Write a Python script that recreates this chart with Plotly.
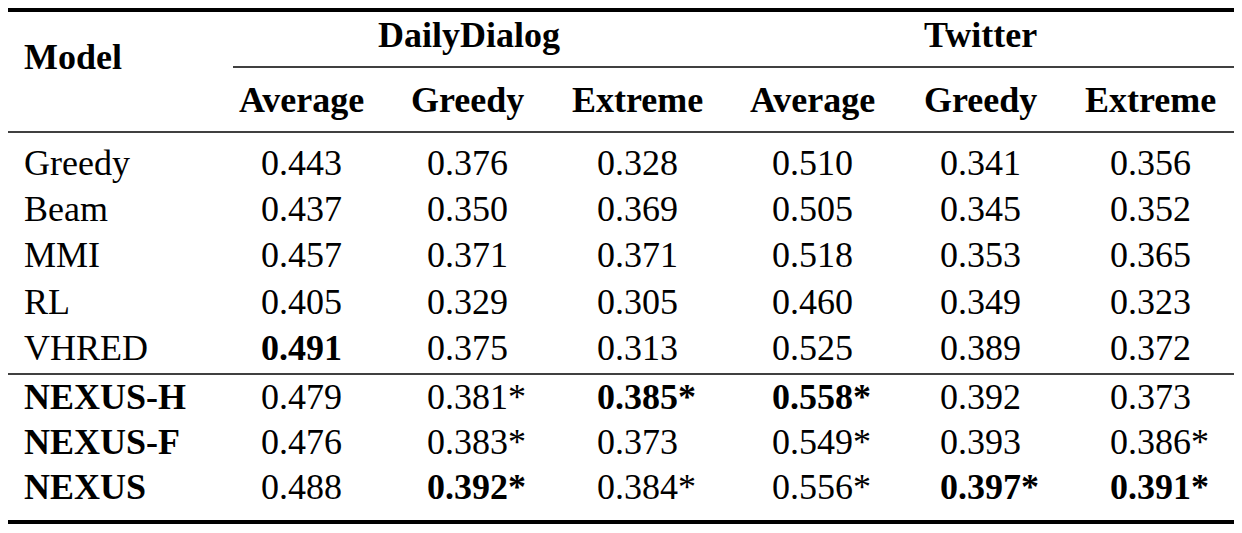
import plotly.graph_objects as go

# Dados da tabela
modelos = ['Greedy', 'Beam', 'MMI', 'RL', 'VHRED', 'NEXUS-H', 'NEXUS-F', 'NEXUS']
modelos_negrito = [False, False, False, False, False, True, True, True]
grupos = ['DailyDialog', 'Twitter']
metricas = ['Average', 'Greedy', 'Extreme', 'Average', 'Greedy', 'Extreme']
valores = [
    ['0.443', '0.376', '0.328', '0.510', '0.341', '0.356'],
    ['0.437', '0.350', '0.369', '0.505', '0.345', '0.352'],
    ['0.457', '0.371', '0.371', '0.518', '0.353', '0.365'],
    ['0.405', '0.329', '0.305', '0.460', '0.349', '0.323'],
    ['0.491', '0.375', '0.313', '0.525', '0.389', '0.372'],
    ['0.479', '0.381*', '0.385*', '0.558*', '0.392', '0.373'],
    ['0.476', '0.383*', '0.373', '0.549*', '0.393', '0.386*'],
    ['0.488', '0.392*', '0.384*', '0.556*', '0.397*', '0.391*'],
]
negrito = [(4, 0), (5, 2), (5, 3), (7, 1), (7, 4), (7, 5)]  # células em negrito

# Posições (pixels da página)
x_col = [301, 467, 637, 812, 980, 1150]
x_grupo = [469, 980]
y_linha = [163, 209, 255, 302, 348, 397, 442, 487]
fonte = dict(family='Liberation Serif, Times New Roman, Times, serif', size=36, color='black')

fig = go.Figure()
fig.add_trace(go.Scatter(x=[500], y=[300], mode='markers', marker=dict(opacity=0), showlegend=False))

anot = []
anot.append(dict(x=22, y=57, text='<b>Model</b>', xanchor='left'))
for g, xg in zip(grupos, x_grupo):
    anot.append(dict(x=xg, y=35, text=f'<b>{g}</b>', xanchor='center'))
for m, xc in zip(metricas, x_col):
    anot.append(dict(x=xc, y=100, text=f'<b>{m}</b>', xanchor='center'))
for i, (m, b) in enumerate(zip(modelos, modelos_negrito)):
    anot.append(dict(x=22, y=y_linha[i], text=f'<b>{m}</b>' if b else m, xanchor='left'))
    for j, v in enumerate(valores[i]):
        texto = f'<b>{v}</b>' if (i, j) in negrito else v
        anot.append(dict(x=x_col[j] + (9 if v.endswith('*') else 0), y=y_linha[i], text=texto, xanchor='center'))
for a in anot:
    a.update(xref='x', yref='y', showarrow=False, yanchor='middle', font=fonte)

linhas = [(8, 1234, 10, 4), (233, 1234, 67, 1.5), (8, 1234, 132, 1.5), (8, 1234, 374, 1.5), (8, 1234, 522, 4)]
for x0, x1, y, w in linhas:
    fig.add_shape(type='line', x0=x0, x1=x1, y0=y, y1=y, xref='x', yref='y',
                  line=dict(color='black', width=w))

fig.update_layout(
    annotations=anot,
    xaxis=dict(range=[8, 1234], visible=False),
    yaxis=dict(range=[525, 8], visible=False),
    plot_bgcolor='white',
    paper_bgcolor='white',
    width=1226,
    height=517,
    autosize=False,
    margin=dict(l=0, r=0, t=0, b=0),
)

fig.write_html("out.html")
